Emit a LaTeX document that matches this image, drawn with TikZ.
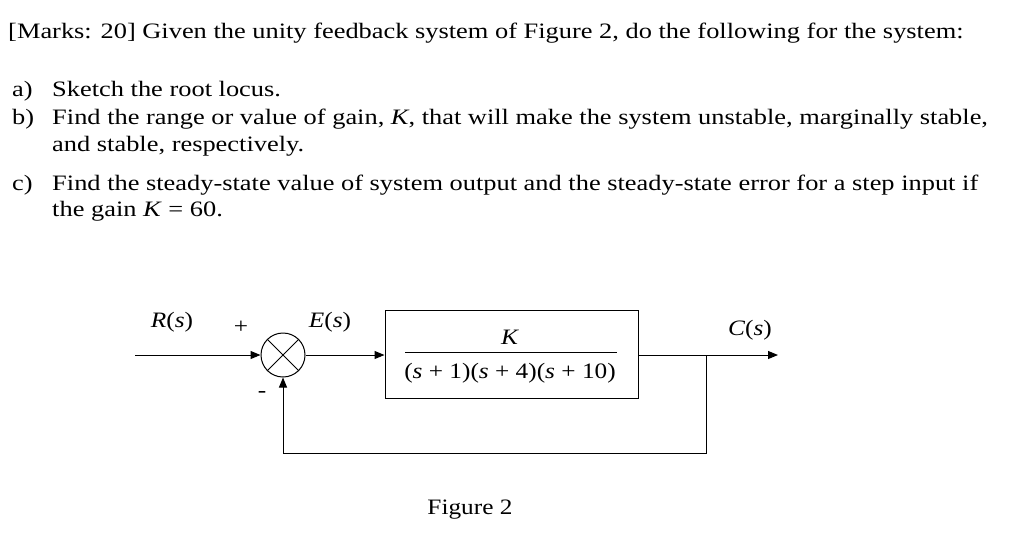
\documentclass[tikz,border=0pt]{standalone}
\usepackage{fontspec}
\setmainfont{Liberation Serif}
\usetikzlibrary{arrows.meta}
\begin{document}
\begin{tikzpicture}[x=1pt,y=-1pt,
  txt/.style={anchor=base west,inner sep=0pt,xscale=1.2,font=\fontsize{22}{26}\selectfont},
  lbl/.style={inner sep=0pt,xscale=1.15,font=\fontsize{22}{26}\selectfont},
  sig/.style={line width=1pt,-{Triangle[length=10pt,width=8pt]}},
  wire/.style={line width=1pt}]
\useasboundingbox (0,0) rectangle (1024,544);
\fill[white] (0,0) rectangle (1024,544);
\node[txt] (t0) at (8,38) {[Marks: 20] Given the unity feedback system of Figure 2, do the following for the system:};
\node[txt] (ta) at (12,96) {a)}; \node[txt] (ta2) at (52,96) {Sketch the root locus.};
\node[txt] (tb) at (12,124) {b)}; \node[txt] (tb1) at (52,124) {Find the range or value of gain, \textit{K}, that will make the system unstable, marginally stable,};
\node[txt] (tb2) at (52,151) {and stable, respectively.};
\node[txt] (tc) at (12,190) {c)}; \node[txt] (tc1) at (52,190) {Find the steady-state value of system output and the steady-state error for a step input if};
\node[txt] (tc2) at (52,216) {the gain \textit{K} = 60.};
% diagram
\coordinate (in) at (135,355);
\node[draw,circle,line width=1pt,minimum size=44pt,inner sep=0pt] (sum) at (283,355) {};
\draw[line width=1pt] (sum.45) -- (sum.225) (sum.135) -- (sum.315);
\node[draw,line width=1pt,minimum width=253pt,minimum height=88pt,inner sep=0pt] (G) at (511.5,354) {};
\node[lbl] (K) at (510,337) {\textit{K}};
\draw[line width=0.8pt] (405,352) -- (617,352);
\node[lbl] (den) at (510,373) {(\textit{s} + 1)(\textit{s} + 4)(\textit{s} + 10)};
\coordinate (out) at (778,355);
\coordinate (br) at (706,355);
\coordinate (fb1) at (706,453);
\coordinate (fb2) at (283,453);
\draw[sig] (in) -- (sum.west);
\draw[sig] (sum.east) -- (G.west |- sum.east);
\draw[sig] (G.east |- out) -- (out);
\draw[wire] (br) -- (fb1) -- (fb2);
\draw[sig] (fb2) -- (sum.south);
\node[lbl] (R) at (172,322) {\textit{R}(\textit{s})};
\node[lbl] (plus) at (241,327) {+};
\node[lbl] (E) at (330,322) {\textit{E}(\textit{s})};
\node[lbl] (C) at (750,330) {\textit{C}(\textit{s})};
\node[lbl] (minus) at (262,394) {-};
\node[lbl] (fig) at (470,510) {Figure 2};
\end{tikzpicture}
\end{document}
